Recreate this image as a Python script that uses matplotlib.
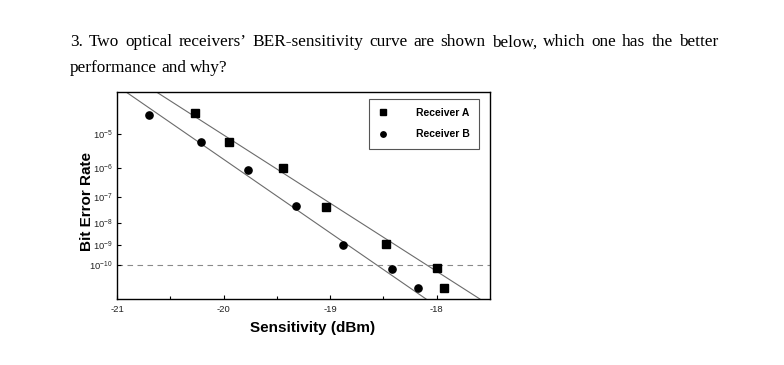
import numpy as np
import matplotlib
matplotlib.use("Agg")
import matplotlib.pyplot as plt
from matplotlib.ticker import FixedLocator, FixedFormatter

# question text
question_lines = [
    "3. Two optical receivers\u2019 BER-sensitivity curve are shown below, which one has the better",
    "performance and why?",
]

# data
sens_A = [-20.27, -19.95, -19.44, -19.04, -18.48, -18.00, -17.93]
ber_A = [3.3e-5, 6.2e-6, 1.0e-6, 4.5e-8, 1.1e-9, 6.9e-11, 4.5e-12]
sens_B = [-20.70, -20.21, -19.77, -19.32, -18.88, -18.42, -18.18]
ber_B = [3.1e-5, 6.2e-6, 9.0e-7, 4.8e-8, 9.5e-10, 5.6e-11, 4.5e-12]

# straight fit lines (BER scale), x where they cross 1e-4 and 1e-12
fit_ber = [1e-4, 1e-12]
fit_A = [-20.63, -17.595]
fit_B = [-20.915, -18.10]

ref_ber = 1e-10
x_ticks = [-21, -20, -19, -18]
x_minor = [-20.5, -19.5, -18.5]
y_ticks = [1e-5, 1e-6, 1e-7, 1e-8, 1e-9, 1e-10]
y_labels = [r"$10^{-5}$", r"$10^{-6}$", r"$10^{-7}$", r"$10^{-8}$", r"$10^{-9}$", r"$10^{-10}$"]


def fwd(b):
    b = np.clip(np.asarray(b, dtype=float), 1e-300, 0.999999)
    return -np.log10(-np.log10(b))


def inv(y):
    return 10 ** (-(10 ** (-np.asarray(y, dtype=float))))


plt.rcParams['font.family'] = ['Liberation Sans', 'DejaVu Sans']
plt.rcParams['mathtext.fontset'] = 'custom'
plt.rcParams['mathtext.rm'] = 'Liberation Sans'
plt.rcParams['mathtext.it'] = 'Liberation Sans'

W, H = 784, 365
fig = plt.figure(figsize=(W / 100, H / 100), dpi=100)

# justified question text
fig.canvas.draw()
renderer = fig.canvas.get_renderer()
x_left, x_right = 70 / W, 718 / W
line_y = [1 - 46.3 / H, 1 - 72.3 / H]
for i, line in enumerate(question_lines):
    words = line.split(" ")
    texts = [fig.text(0, line_y[i], w, family='Liberation Serif', fontsize=12.4,
                      va='baseline', ha='left') for w in words]
    widths = [t.get_window_extent(renderer).width / W for t in texts]
    if i == 0:
        gap = (x_right - x_left - sum(widths)) / (len(words) - 1)
    else:
        gap = 0.0052
    x = x_left
    for t, w in zip(texts, widths):
        t.set_x(x)
        x += w + gap

ax = fig.add_axes([117 / W, 1 - 299 / H, (490 - 117) / W, (299 - 92) / H])
ax.set_yscale('function', functions=(fwd, inv))
ax.set_xlim(-21, -17.5)
ax.set_ylim(1e-12, 1e-4)

ax.plot(fit_A, fit_ber, color='#6b6b6b', lw=0.8, zorder=1)
ax.plot(fit_B, fit_ber, color='#6b6b6b', lw=0.8, zorder=1)
ax.axhline(ref_ber, color='#8a8a8a', lw=0.8, ls=(0, (5, 4)), zorder=1)

ax.plot(sens_A, ber_A, ls='none', marker='s', ms=5.2, color='black', label='Receiver A', zorder=3)
ax.plot(sens_B, ber_B, ls='none', marker='o', ms=5.2, color='black', label='Receiver B', zorder=3)

ax.xaxis.set_major_locator(FixedLocator(x_ticks))
ax.xaxis.set_minor_locator(FixedLocator(x_minor))
ax.set_xticklabels([str(v) for v in x_ticks])
ax.yaxis.set_major_locator(FixedLocator(y_ticks))
ax.yaxis.set_major_formatter(FixedFormatter(y_labels))
ax.yaxis.set_minor_locator(FixedLocator([]))
ax.tick_params(axis='both', which='major', direction='in', length=3, width=0.8,
               labelsize=6.8, colors='black', labelcolor='#222222')
ax.tick_params(axis='x', which='minor', direction='in', length=2.5, width=0.8)
ax.tick_params(axis='x', which='major', pad=4)
ax.tick_params(axis='y', which='major', pad=3)
for s in ax.spines.values():
    s.set_linewidth(1.0)

ax.set_xlabel('Sensitivity (dBm)', fontsize=11, fontweight='bold')
ax.xaxis.set_label_coords(0.524, -0.105)
ax.set_ylabel('Bit Error Rate', fontsize=11, fontweight='bold')
ax.yaxis.set_label_coords(-0.062, 0.473)

leg = ax.legend(loc='upper right', bbox_to_anchor=(0.970, 0.968), fancybox=False,
                edgecolor='#555555', framealpha=1, prop={'size': 7.5, 'weight': 'bold'},
                handlelength=1.0, handletextpad=2.6, borderpad=0.9, labelspacing=1.1,
                borderaxespad=0, markerscale=0.75)
leg.get_frame().set_linewidth(0.8)

fig.savefig('out.png', dpi=100)
